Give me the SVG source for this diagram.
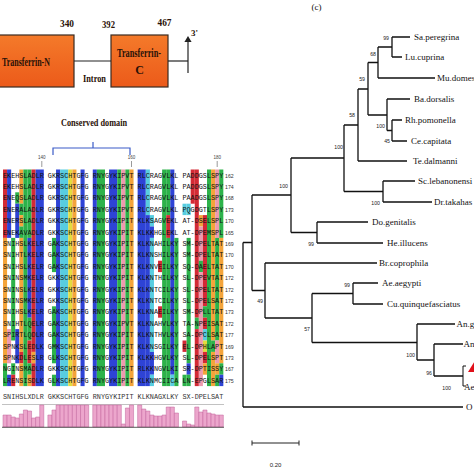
<svg xmlns="http://www.w3.org/2000/svg" width="474" height="474" viewBox="0 0 474 474">
<defs>
<linearGradient id="og" x1="0" y1="0" x2="0" y2="1"><stop offset="0" stop-color="#F47A2A"/><stop offset="1" stop-color="#EC5A1A"/></linearGradient>
<marker id="ah" markerWidth="5" markerHeight="6" refX="2.5" refY="3" orient="auto"><path d="M0,0 L5,3 L0,6 z" fill="#222"/></marker>
</defs>
<style>
.gt{font-family:"Liberation Serif",serif;font-weight:bold;fill:#2a1208}
.aa{font-family:"Liberation Mono",monospace;font-size:6.8px;fill:#111}
.cons{font-family:"Liberation Mono",monospace;font-size:6.8px;fill:#333}
.num{font-family:"Liberation Sans",sans-serif;font-size:5.2px;fill:#333}
.tk{font-family:"Liberation Sans",sans-serif;font-size:4.5px;fill:#444}
.sp{font-family:"Liberation Serif",serif;font-size:9px;fill:#111}
.bs{font-family:"Liberation Sans",sans-serif;font-size:5.2px;fill:#222;text-anchor:end}
.br{stroke:#111;stroke-width:1.3;fill:none}
.exon{fill:url(#og);stroke:#3a2a20;stroke-width:1.2}
.r{fill:#D42A35}.b{fill:#2E43D6}.g{fill:#2DB24A}.o{fill:#F4A43A}.y{fill:#E3DB3E}.p{fill:#EE9AAE}.c{fill:#58CDE0}
.bar rect{fill:#ECA6CC;stroke:#C0609A;stroke-width:0.5;vector-effect:non-scaling-stroke}
</style>
<rect width="474" height="474" fill="#fff"/>

<!-- Gene structure -->
<g id="exon-N"><rect class="exon" x="-2" y="35" width="76" height="52"/><text class="gt" x="2" y="66" font-size="12" textLength="48" lengthAdjust="spacingAndGlyphs">Transferrin-N</text></g>
<g id="exon-C"><rect class="exon" x="111" y="35" width="57" height="52"/><text class="gt" x="117" y="57" font-size="12" textLength="44" lengthAdjust="spacingAndGlyphs">Transferrin-</text><text class="gt" x="139.5" y="74" font-size="12" text-anchor="middle">C</text></g>
<g id="gene-connectors">
<line x1="74" y1="61" x2="111" y2="61" stroke="#222" stroke-width="1.2"/>
<line x1="168" y1="61" x2="188" y2="61" stroke="#222" stroke-width="1.2"/>
<line x1="188" y1="73" x2="188" y2="39" stroke="#222" stroke-width="1.2" marker-end="url(#ah)"/>
</g>
<g id="gene-labels">
<text class="gt" x="67" y="26.5" font-size="10" text-anchor="middle" textLength="14" lengthAdjust="spacingAndGlyphs">340</text>
<text class="gt" x="108.5" y="28" font-size="10" text-anchor="middle" textLength="13" lengthAdjust="spacingAndGlyphs">392</text>
<text class="gt" x="164.5" y="26" font-size="10" text-anchor="middle" textLength="14" lengthAdjust="spacingAndGlyphs">467</text>
<text class="gt" x="94.5" y="81.5" font-size="10" text-anchor="middle" textLength="23" lengthAdjust="spacingAndGlyphs">Intron</text>
<text class="gt" x="191" y="36" font-size="9">3'</text>
</g>

<!-- Conserved domain bracket -->
<g id="conserved-domain">
<text class="gt" x="94" y="126" font-size="10" text-anchor="middle" textLength="66" lengthAdjust="spacingAndGlyphs">Conserved domain</text>
<path d="M53,155 V148 H130 V155 M93,148 V142" stroke="#3A5BC7" stroke-width="1.2" fill="none"/>
</g>
<g id="ticks">
<text class="tk" x="41.8" y="158.5" text-anchor="middle">140</text>
<text class="tk" x="131.5" y="158.5" text-anchor="middle">160</text>
<text class="tk" x="217.2" y="158.5" text-anchor="middle">180</text>
<path d="M41.8,161 V167 M131.5,161 V167 M217.2,161 V167" stroke="#555" stroke-width="0.6"/>
</g>

<!-- Alignment colours -->
<g id="alignment-colors" transform="translate(3,169.5) scale(4.08,11.4)">
<rect class="r" x="0" y="0" width="1" height="6"/><rect class="o" x="0" y="6" width="1" height="11"/><rect class="g" x="0" y="17" width="1" height="2"/>
<rect class="b" x="1" y="0" width="1" height="6"/><rect class="p" x="1" y="14" width="1" height="3"/><rect class="b" x="1" y="18" width="1" height="1"/>
<rect class="g" x="2" y="6" width="1" height="9"/><rect class="g" x="2" y="17" width="1" height="1"/><rect class="r" x="2" y="18" width="1" height="1"/>
<rect class="g" x="3" y="2" width="1" height="1"/><rect class="b" x="3" y="3" width="1" height="3"/><rect class="b" x="3" y="14" width="1" height="3"/>
<rect class="o" x="4" y="0" width="1" height="3"/><rect class="g" x="4" y="3" width="1" height="1"/><rect class="o" x="4" y="4" width="1" height="1"/><rect class="g" x="4" y="5" width="1" height="1"/><rect class="o" x="4" y="6" width="1" height="10"/><rect class="r" x="4" y="16" width="1" height="1"/><rect class="o" x="4" y="17" width="1" height="2"/>
<rect class="g" x="5" y="0" width="1" height="19"/>
<rect class="g" x="6" y="0" width="1" height="6"/><rect class="b" x="6" y="6" width="1" height="7"/><rect class="g" x="6" y="13" width="1" height="2"/><rect class="r" x="6" y="15" width="1" height="2"/><rect class="g" x="6" y="17" width="1" height="1"/><rect class="o" x="6" y="18" width="1" height="1"/>
<rect class="r" x="7" y="0" width="1" height="16"/><rect class="o" x="7" y="16" width="1" height="1"/><rect class="r" x="7" y="17" width="1" height="2"/>
<rect class="b" x="8" y="0" width="2" height="19"/>
<rect class="g" x="12" y="6" width="1" height="3"/><rect class="g" x="12" y="12" width="1" height="5"/><rect class="g" x="12" y="18" width="1" height="1"/>
<rect class="b" x="13" y="0" width="1" height="19"/><rect class="c" x="14" y="0" width="2" height="19"/><rect class="y" x="16" y="0" width="1" height="19"/><rect class="o" x="17" y="0" width="1" height="19"/><rect class="b" x="19" y="0" width="1" height="19"/>
<rect class="b" x="22" y="0" width="1" height="19"/><rect class="g" x="23" y="0" width="2" height="19"/><rect class="b" x="26" y="0" width="2" height="19"/><rect class="g" x="28" y="0" width="1" height="19"/><rect class="p" x="29" y="0" width="1" height="19"/><rect class="g" x="30" y="0" width="1" height="19"/><rect class="o" x="31" y="0" width="1" height="19"/>
<rect class="b" x="33" y="0" width="2" height="19"/>
<rect class="c" x="35" y="0" width="1" height="4"/><rect class="b" x="35" y="4" width="1" height="15"/>
<rect class="c" x="36" y="4" width="1" height="1"/><rect class="b" x="36" y="5" width="1" height="1"/><rect class="c" x="36" y="6" width="1" height="10"/><rect class="b" x="36" y="16" width="1" height="2"/><rect class="c" x="36" y="18" width="1" height="1"/>
<rect class="r" x="38" y="8" width="1" height="1"/><rect class="r" x="38" y="12" width="1" height="1"/>
<rect class="g" x="39" y="0" width="1" height="19"/>
<rect class="g" x="40" y="0" width="1" height="4"/><rect class="r" x="40" y="4" width="1" height="2"/><rect class="g" x="40" y="6" width="1" height="13"/>
<rect class="b" x="41" y="0" width="1" height="18"/><rect class="c" x="41" y="18" width="1" height="1"/>
<rect class="g" x="42" y="6" width="1" height="13"/>
<rect class="c" x="44" y="3" width="1" height="1"/><rect class="r" x="44" y="15" width="1" height="1"/><rect class="g" x="44" y="18" width="1" height="1"/>
<rect class="c" x="45" y="3" width="1" height="1"/><rect class="g" x="45" y="6" width="1" height="11"/><rect class="b" x="45" y="17" width="1" height="1"/><rect class="g" x="45" y="18" width="1" height="1"/>
<rect class="r" x="46" y="0" width="1" height="3"/>
<rect class="r" x="47" y="0" width="1" height="13"/><rect class="g" x="47" y="13" width="1" height="1"/><rect class="r" x="47" y="14" width="1" height="5"/>
<rect class="o" x="48" y="4" width="1" height="1"/><rect class="p" x="48" y="5" width="1" height="3"/><rect class="g" x="48" y="8" width="1" height="1"/><rect class="p" x="48" y="9" width="1" height="10"/>
<rect class="r" x="49" y="4" width="1" height="8"/><rect class="g" x="49" y="12" width="1" height="1"/><rect class="r" x="49" y="13" width="1" height="1"/><rect class="c" x="49" y="14" width="1" height="1"/><rect class="y" x="49" y="15" width="1" height="1"/><rect class="r" x="49" y="16" width="1" height="1"/><rect class="o" x="49" y="17" width="1" height="1"/>
<rect class="g" x="50" y="0" width="1" height="19"/>
<rect class="o" x="51" y="0" width="1" height="15"/><rect class="g" x="51" y="15" width="1" height="1"/><rect class="o" x="51" y="16" width="1" height="3"/>
<rect class="p" x="52" y="0" width="1" height="6"/><rect class="g" x="52" y="6" width="1" height="9"/><rect class="p" x="52" y="15" width="1" height="2"/><rect class="o" x="52" y="17" width="1" height="1"/><rect class="g" x="52" y="18" width="1" height="1"/>
<rect class="g" x="53" y="0" width="1" height="6"/><rect class="o" x="53" y="6" width="1" height="11"/><rect class="g" x="53" y="17" width="1" height="1"/><rect class="b" x="53" y="18" width="1" height="1"/>
</g>

<!-- Alignment sequences -->
<g id="alignment-text" class="aa">
<text x="3" y="177.5">EKEHSLADLR GKRSCHTGFG RNYGYKIPVT RLCRAGVLKL PADDGSLSPY</text>
<text x="3" y="188.9">EKEHSLADLR GKRSCHTGFG RNYGYKIPVT RLCRAGVLKL PADDGSLSPY</text>
<text x="3" y="200.3">ENEQSLADLR GKRSCHTGFG RNYGYKIPVT RLCRAGVLKL PAADGSLSPY</text>
<text x="3" y="211.7">ENERALADLR GKRSCHTGFG RNYGYKIPVT RLCRAGVLKL PQGDGTLSPY</text>
<text x="3" y="223.1">ENERSLADLR GKKSCHTGFG RNYGYKIPIT KLKSAGVEKL AT-DSELSPL</text>
<text x="3" y="234.5">ENEKAVADLR GKKSCHTGFG RNYGYKIPIT KLKKHGLEKL AT-DPEMSPL</text>
<text x="3" y="245.9">SNIHSLKELR GAKSCHTGFG RNYGYKIPIT KLKNAHILKY SM-DPELTAT</text>
<text x="3" y="257.3">SNIHTLKELR GAKSCHTGFG RNYGYKIPIT KLKNSHILKY SM-DPELTAT</text>
<text x="3" y="268.7">SNIHSLKELR GAKSCHTGFG RNYGYKIPIT KLKNVEILKY SQ-DAELTAT</text>
<text x="3" y="280.1">SNINSMKELR GKKSCHTGFG RNYGYKIPIT KLKNTHILKY SL-DPEVTAT</text>
<text x="3" y="291.5">SNINSLKELR GKKSCHTGFG RNYGYKIPIT KLKNTCILKY SL-DPELTAT</text>
<text x="3" y="302.9">SNINSMKELR GKKSCHTGFG RNYGYKIPIT KLKNTCILKY SL-DPELSAT</text>
<text x="3" y="314.3">SNIHSLKELR GAKSCHTGFG RNYGYKIPIT KLKNAEILKY SM-DPLLTAT</text>
<text x="3" y="325.7">SNIHTLQELR GAKSCHTGFG RNYGYKIPVT KLKNAHVLKY TA-NPEISAT</text>
<text x="3" y="337.1">SPIRTLQDLR GAKSCHTGFG RNYGYKIPIT KLKNTHVLKY SA-DPCLSAT</text>
<text x="3" y="348.5">SPNKSLEDLK GMKSCHTGFG RNYGYKIPIT KLKNSGILKY EL-DPHLAPT</text>
<text x="3" y="359.9">SPNKDLESLR GLKSCHTGFG RNYGYKIPIT KLKKHGVLKY SL-DPELSPT</text>
<text x="3" y="371.3">NGINSMADLR GKKSCHTGFG RNYGYKIPIT RLKKNGVLKI SR-DPTISSY</text>
<text x="3" y="382.7">LRENSISDLK GLKSCHTGFG RNYGYKIPIT KLKNMCIICA LN-EPGLSAR</text>
</g>
<g id="alignment-lengths" class="num">
<text x="225" y="177.5">162</text><text x="225" y="188.9">174</text><text x="225" y="200.3">168</text><text x="225" y="211.7">173</text><text x="225" y="223.1">170</text><text x="225" y="234.5">165</text><text x="225" y="245.9">169</text><text x="225" y="257.3">170</text><text x="225" y="268.7">170</text><text x="225" y="280.1">172</text><text x="225" y="291.5">172</text><text x="225" y="302.9">172</text><text x="225" y="314.3">173</text><text x="225" y="325.7">172</text><text x="225" y="337.1">177</text><text x="225" y="348.5">169</text><text x="225" y="359.9">173</text><text x="225" y="371.3">167</text><text x="225" y="382.7">175</text>
</g>
<text id="consensus" class="cons" x="3" y="399">SNIHSLXDLR GKKSCHTGFG RNYGYKIPIT KLKNAGXLKY SX-DPELSAT</text>

<!-- Conservation bars -->
<g id="conservation">
<line x1="2" y1="404.5" x2="224" y2="404.5" stroke="#999" stroke-width="0.6"/>
<g class="bar" transform="translate(3,427) scale(4.08,-1)">
<rect x="0" y="0" width="1" height="12"/><rect x="1" y="0" width="1" height="12"/><rect x="2" y="0" width="1" height="10"/><rect x="3" y="0" width="1" height="9"/><rect x="4" y="0" width="1" height="13"/><rect x="5" y="0" width="1" height="17"/><rect x="6" y="0" width="1" height="16"/><rect x="7" y="0" width="1" height="9"/><rect x="8" y="0" width="1" height="10"/><rect x="9" y="0" width="1" height="22"/>
<rect x="11" y="0" width="1" height="12"/><rect x="12" y="0" width="1" height="17"/><rect x="13" y="0" width="1" height="22"/><rect x="14" y="0" width="1" height="22"/><rect x="15" y="0" width="1" height="22"/><rect x="16" y="0" width="1" height="22"/><rect x="17" y="0" width="1" height="22"/><rect x="18" y="0" width="1" height="22"/><rect x="19" y="0" width="1" height="22"/><rect x="20" y="0" width="1" height="22"/>
<rect x="22" y="0" width="1" height="22"/><rect x="23" y="0" width="1" height="22"/><rect x="24" y="0" width="1" height="22"/><rect x="25" y="0" width="1" height="22"/><rect x="26" y="0" width="1" height="22"/><rect x="27" y="0" width="1" height="22"/><rect x="28" y="0" width="1" height="22"/><rect x="29" y="0" width="1" height="3"/><rect x="30" y="0" width="1" height="19"/><rect x="31" y="0" width="1" height="22"/>
<rect x="33" y="0" width="1" height="22"/><rect x="34" y="0" width="1" height="18"/><rect x="35" y="0" width="1" height="16"/><rect x="36" y="0" width="1" height="12"/><rect x="37" y="0" width="1" height="11"/><rect x="38" y="0" width="1" height="11"/><rect x="39" y="0" width="1" height="12"/><rect x="40" y="0" width="1" height="20"/><rect x="41" y="0" width="1" height="20"/><rect x="42" y="0" width="1" height="14"/>
<rect x="44" y="0" width="1" height="6"/><rect x="45" y="0" width="1" height="3"/><rect x="46" y="0" width="1" height="2"/><rect x="47" y="0" width="1" height="20"/><rect x="48" y="0" width="1" height="15"/><rect x="49" y="0" width="1" height="17"/><rect x="50" y="0" width="1" height="14"/><rect x="51" y="0" width="1" height="13"/><rect x="52" y="0" width="1" height="12"/><rect x="53" y="0" width="1" height="12"/>
</g>
<line x1="2" y1="427.3" x2="224" y2="427.3" stroke="#333" stroke-width="0.8"/>
</g>

<!-- Phylogenetic tree -->
<text class="sp" x="316.5" y="10" font-size="10" text-anchor="middle">(c)</text>
<g id="tree-connectors" class="br">
<path d="M243,242.5 V407 M243,242.5 H252 M243,407 H463"/>
<path d="M252,195 V290.5 M252,195 H291 M252,290.5 H265"/>
<path d="M291,158 V232.5 M291,158 H344 M291,232.5 H317"/>
<path d="M344,125 V191.5 M344,125 H358 M344,191.5 H383"/>
<path d="M358,89 V161 M358,89 H368 M358,161 H407"/>
<path d="M368,62.5 V115 M368,62.5 H378 M368,115 H387"/>
<path d="M378,47 V78 M378,47 H392 M378,78 H435"/>
<path d="M392,37 V57 M392,37 H410 M392,57 H402"/>
<path d="M387,99 V130.5 M387,99 H410 M387,130.5 H392"/>
<path d="M392,120 V141 M392,120 H402 M392,141 H407"/>
<path d="M383,181 V202 M383,181 H415 M383,202 H432"/>
<path d="M317,222 V243 M317,222 H368 M317,243 H383"/>
<path d="M265,263 V318 M265,263 H377 M265,318 H312"/>
<path d="M312,293.5 V342.5 M312,293.5 H353 M312,342.5 H417"/>
<path d="M353,283 V304 M353,283 H378 M353,304 H383"/>
<path d="M417,324 V360 M417,324 H455 M417,360 H434"/>
<path d="M434,344 V376 M434,344 H463 M434,376 H463"/>
<path d="M463,366 V386 M463,366 H466 M463,386 H466" stroke-width="1"/>
</g>
<g id="tree-leaves" class="sp">
<g id="sa"><text x="414" y="40">Sa.peregrina</text></g>
<g id="lu"><text x="405" y="60">Lu.cuprina</text></g>
<g id="mu"><text x="437" y="81">Mu.domes</text></g>
<g id="ba"><text x="414" y="102">Ba.dorsalis</text></g>
<g id="rh"><text x="405" y="123">Rh.pomonella</text></g>
<g id="ce"><text x="411" y="144">Ce.capitata</text></g>
<g id="te"><text x="413" y="164">Te.dalmanni</text></g>
<g id="sc"><text x="418" y="184">Sc.lebanonensi</text></g>
<g id="dr"><text x="434" y="205">Dr.takahas</text></g>
<g id="do"><text x="372" y="225">Do.genitalis</text></g>
<g id="he"><text x="387" y="246">He.illucens</text></g>
<g id="brc"><text x="379" y="266">Br.coprophila</text></g>
<g id="aeg"><text x="382" y="286">Ae.aegypti</text></g>
<g id="cu"><text x="387" y="307">Cu.quinquefasciatus</text></g>
<g id="an1"><text x="456.5" y="327">An.g</text></g>
<g id="an2"><text x="463.5" y="347">An</text></g>
<g id="ae2"><polygon points="468,372 476,359 484,372" fill="#E0101A"/><text x="464" y="390">Ae</text></g>
<g id="og-leaf"><text x="466" y="410">O</text></g>
</g>
<g id="bootstrap" class="bs">
<text x="389" y="40">99</text>
<text x="376" y="56">68</text>
<text x="365" y="81">59</text>
<text x="355" y="117">58</text>
<text x="343" y="149">100</text>
<text x="385" y="128">100</text>
<text x="390" y="143">45</text>
<text x="380" y="205">100</text>
<text x="288" y="188">100</text>
<text x="314" y="246">99</text>
<text x="263" y="303">49</text>
<text x="350" y="287">99</text>
<text x="310" y="331">57</text>
<text x="415" y="357">100</text>
<text x="432" y="375">96</text>
<text x="451" y="390">100</text>
</g>
<g id="scale-bar">
<path d="M252,443 H299 M252,440.5 V445.5 M299,440.5 V445.5" stroke="#222" stroke-width="1" fill="none"/>
<text x="275.5" y="467" font-family="Liberation Sans, sans-serif" font-size="6" text-anchor="middle" fill="#222">0.20</text>
</g>
</svg>
